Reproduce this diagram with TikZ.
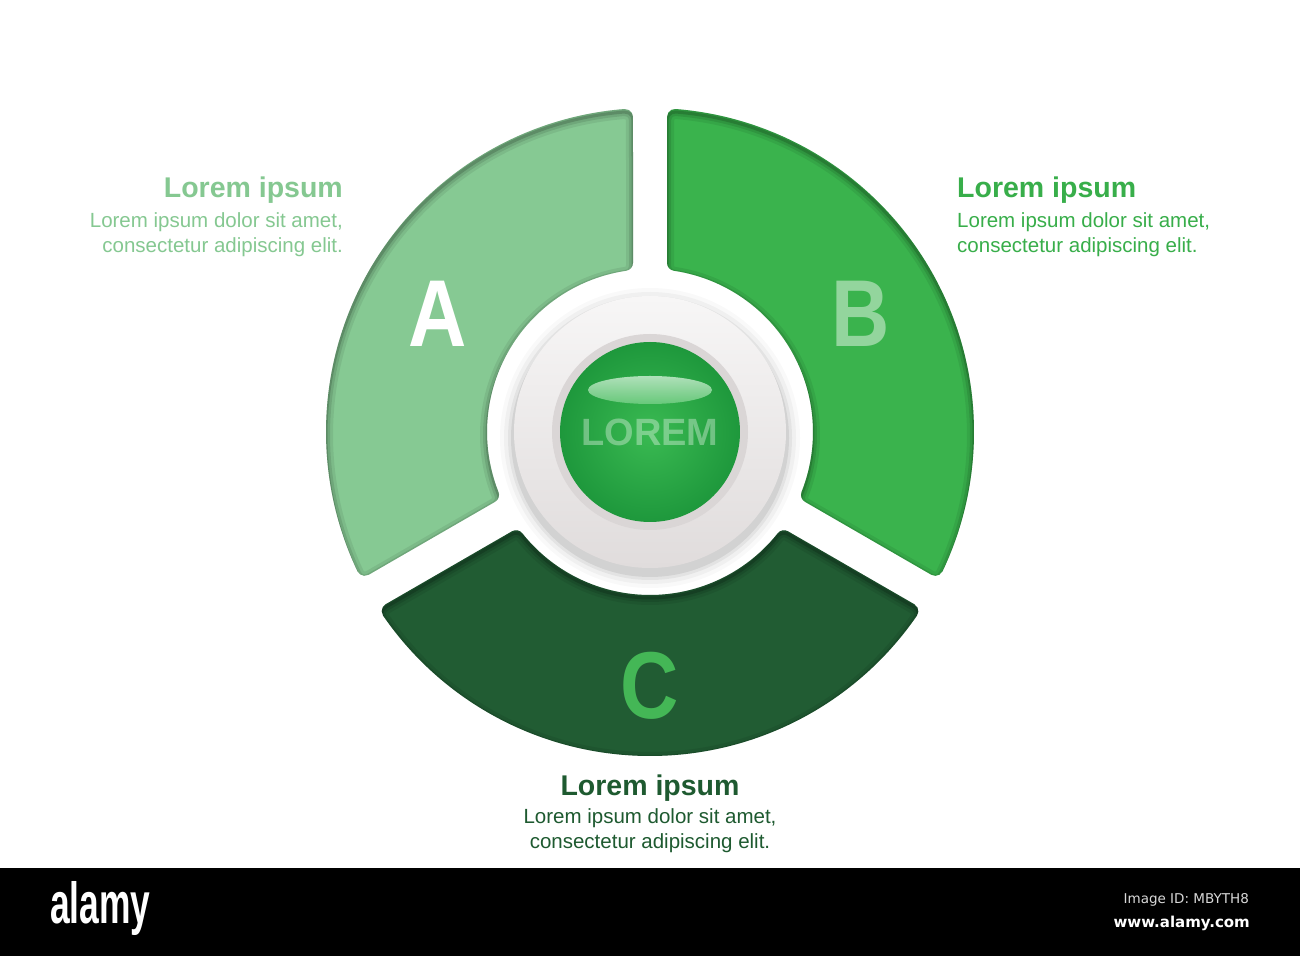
\documentclass[tikz,border=0pt]{standalone}
\usepackage{fontspec}
\setmainfont{Liberation Sans}
\newfontfamily\LetterFont[FakeStretch=0.85]{Liberation Sans}
\newfontfamily\LogoFont[FakeStretch=0.61]{Liberation Sans}
\newfontfamily\BarFont{DejaVu Sans}
\usepackage{xcolor}
\definecolor{ColA}{RGB}{134,201,147}
\definecolor{ColB}{RGB}{58,179,77}
\definecolor{ColC}{RGB}{33,92,51}
\definecolor{TxtA}{RGB}{133,200,145}
\definecolor{TxtB}{RGB}{56,174,74}
\definecolor{TxtC}{RGB}{30,90,48}
\definecolor{RingTop}{RGB}{247,246,246}
\definecolor{RingBot}{RGB}{224,220,220}
\definecolor{RingIn}{RGB}{218,214,214}
\definecolor{BallIn}{RGB}{58,186,82}
\definecolor{BallOut}{RGB}{30,152,60}
\usetikzlibrary{calc}
\tikzstyle{Title}=[inner sep=0pt,font=\bfseries\fontsize{28.5}{30}\selectfont]
\tikzstyle{Body}=[inner sep=0pt,font=\fontsize{20.5}{22}\selectfont]
\tikzstyle{Letter}=[inner sep=0pt,anchor=base,
  font=\LetterFont\bfseries\fontsize{95}{95}\selectfont]
\tikzstyle{Shadow}=[black,line cap=round,line join=round]
% angles of one sector between the gaps #1 and #2
\newcommand{\SetSeg}[2]{%
  \pgfmathsetmacro\SegOa{#1+4.54}\pgfmathsetmacro\SegOb{#2-4.54}%
  \pgfmathsetmacro\SegIa{#1+8.41}\pgfmathsetmacro\SegIb{#2-8.41}%
  \pgfmathsetmacro\SegNa{#1-90}\pgfmathsetmacro\SegNb{#2+90}%
  \pgfmathsetmacro\SegQa{#1+188.41}\pgfmathsetmacro\SegRa{#1+270}%
  \pgfmathsetmacro\SegQb{#2+171.59}}
\newcommand{\SegPath}{(\SegOa:324)
  arc[start angle=\SegOa,end angle=\SegOb,radius=324]
  arc[start angle=\SegOb,end angle=\SegNb,radius=8]
  --($(\SegIb:171)+(\SegNb:8)$)
  arc[start angle=\SegNb,end angle=\SegQb,radius=8]
  arc[start angle=\SegIb,end angle=\SegIa,radius=163]
  arc[start angle=\SegQa,end angle=\SegRa,radius=8]
  --($(\SegOa:316)+(\SegNa:8)$)
  arc[start angle=\SegNa,end angle=\SegOa,radius=8]--cycle}
\begin{document}
\begin{tikzpicture}[x=1pt,y=1pt]
    \fill[white](0,0)rectangle(1300,956);
    \useasboundingbox(0,0)rectangle(1300,956);
    % wheel
    \begin{scope}[shift={(650,524)}]
        \foreach \a/\b/\c in {90/210/ColA,-30/90/ColB,210/330/ColC}{
            \SetSeg{\a}{\b}
            \fill[\c]\SegPath;
            \begin{scope}
                \clip\SegPath;
                \foreach \w/\o in {14/.07,8/.1,3/.16}
                    \draw[Shadow,opacity=\o,line width=\w pt,yshift=-3pt]\SegPath;
            \end{scope}
        }
        \foreach \r/\o in {150/.025,146/.035,142/.05,139/.07}
            \fill[black,opacity=\o](0,-6)circle(\r);
        \shade[top color=RingTop,bottom color=RingBot](0,0)circle(136);
        \fill[RingIn](0,0)circle(98);
        \shade[inner color=BallIn,outer color=BallOut](0,0)circle(90);
        \shade[top color=white!72!BallIn,bottom color=BallIn!72!white,opacity=.85]
            (0,42)ellipse[x radius=62,y radius=14];
        \node[inner sep=0pt,text=white,text opacity=.35,
            font=\bfseries\fontsize{38}{38}\selectfont](core)at(0,0){LOREM};
    \end{scope}
    % sector letters
    \node[Letter,text=white](A)at(438,609){A};
    \node[Letter,text=white!45!ColB](B)at(861,609){B};
    \node[Letter,text=ColB!95!white](C)at(650,238){C};
    % text blocks
    \node[Title,text=TxtA,anchor=base east](tA)at(343,758){Lorem ipsum};
    \node[Body,text=TxtA,anchor=base east](tA1)at(343,728){Lorem ipsum dolor sit amet,};
    \node[Body,text=TxtA,anchor=base east](tA2)at(343,703){consectetur adipiscing elit.};
    \node[Title,text=TxtB,anchor=base west](tB)at(957,758){Lorem ipsum};
    \node[Body,text=TxtB,anchor=base west](tB1)at(957,728){Lorem ipsum dolor sit amet,};
    \node[Body,text=TxtB,anchor=base west](tB2)at(957,703){consectetur adipiscing elit.};
    \node[Title,text=TxtC,anchor=base](tC)at(650,161){Lorem ipsum};
    \node[Body,text=TxtC,anchor=base](tC1)at(650,133){Lorem ipsum dolor sit amet,};
    \node[Body,text=TxtC,anchor=base](tC2)at(650,108){consectetur adipiscing elit.};
    % bottom bar
    \fill[black](0,0)rectangle(1300,88);
    \node[inner sep=0pt,anchor=base west,text=white,
        font=\LogoFont\bfseries\fontsize{58}{58}\selectfont](logo)at(50,33){alamy};
    \node[inner sep=0pt,anchor=base east,text=white!85!black,
        font=\BarFont\fontsize{13.5}{14}\selectfont](imgid)at(1249,53){Image ID: MBYTH8};
    \node[inner sep=0pt,anchor=base east,text=white,
        font=\BarFont\bfseries\fontsize{15}{16}\selectfont](site)at(1250,29){www.alamy.com};
\end{tikzpicture}
\end{document}
